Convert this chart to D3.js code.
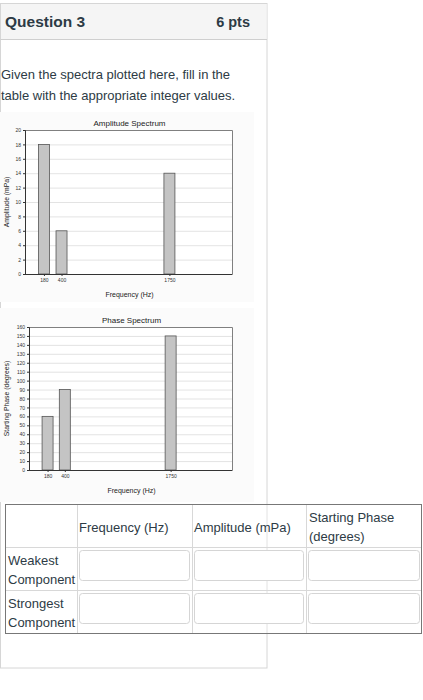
<!DOCTYPE html>
<html>
<head>
<meta charset="utf-8">
<script src="https://cdn.jsdelivr.net/npm/d3@7"></script>
<style>
  html, body { margin: 0; padding: 0; background: #fff; }
  svg { display: block; }
  text { font-family: "Liberation Sans", Arial, sans-serif; }
</style>
</head>
<body>
<svg id="page" width="423" height="700"></svg>
<script>
// ---- Data ----
const frequencies = [180, 400, 1750];
const amplitudes = [18, 6, 14];          // mPa
const phases = [60, 90, 150];            // degrees
const ampTicks = [0, 2, 4, 6, 8, 10, 12, 14, 16, 18, 20];
const phaseTicks = [0, 10, 20, 30, 40, 50, 60, 70, 80, 90, 100, 110, 120, 130, 140, 150, 160];
const questionTitle = "Question 3";
const questionPoints = "6 pts";
const promptLines = ["Given the spectra plotted here, fill in the", "table with the appropriate integer values."];
const tableHeaders = ["", "Frequency (Hz)", "Amplitude (mPa)", ["Starting Phase", "(degrees)"]];
const tableRows = [["Weakest", "Component"], ["Strongest", "Component"]];

const svg = d3.select("#page");

// ---- Question panel ----
svg.append("rect").attr("x", 0.5).attr("y", 3.5).attr("width", 266.5).attr("height", 664.5)
  .attr("fill", "#fff").attr("stroke", "#d6d6d6");
svg.append("rect").attr("x", 1).attr("y", 4).attr("width", 265.5).attr("height", 35)
  .attr("fill", "#f5f5f5");
svg.append("line").attr("x1", 0.5).attr("x2", 267).attr("y1", 39.5).attr("y2", 39.5)
  .attr("stroke", "#cfcfcf");
svg.append("text").attr("x", 5).attr("y", 27).attr("font-size", 15.5).attr("font-weight", "bold")
  .attr("fill", "#2d3b45").text(questionTitle);
svg.append("text").attr("x", 250).attr("y", 27).attr("font-size", 14.5).attr("font-weight", "bold")
  .attr("text-anchor", "end").attr("fill", "#2d3b45").text(questionPoints);
promptLines.forEach((l, i) => {
  svg.append("text").attr("x", 1).attr("y", 79 + i * 21).attr("font-size", 13)
    .attr("fill", "#2d3b45").text(l);
});

// ---- Chart drawer ----
function drawChart(cfg) {
  const g = svg.append("g");
  g.append("rect").attr("x", 0).attr("y", cfg.bgTop).attr("width", 254).attr("height", cfg.bgH)
    .attr("fill", "#fbfbfb");
  const x = d3.scaleLinear().domain([-57, 2533]).range([cfg.left, cfg.right]);
  const y = d3.scaleLinear().domain([0, cfg.max]).range([cfg.bottom, cfg.top]);
  g.append("rect").attr("x", cfg.left).attr("y", cfg.top)
    .attr("width", cfg.right - cfg.left).attr("height", cfg.bottom - cfg.top).attr("fill", "#fff");
  // gridlines
  g.append("g").selectAll("line").data(cfg.ticks.slice(1)).join("line")
    .attr("x1", cfg.left).attr("x2", cfg.right)
    .attr("y1", d => y(d) + 0.5).attr("y2", d => y(d) + 0.5)
    .attr("stroke", "#dcdcdc").attr("stroke-width", 0.8);
  // frame top/right
  g.append("path")
    .attr("d", `M${cfg.left},${cfg.top + 0.5}H${cfg.right + 0.5}V${cfg.bottom}`)
    .attr("fill", "none").attr("stroke", "#808080").attr("stroke-width", 1);
  // bars
  g.append("g").selectAll("rect").data(frequencies.map((f, i) => ({ f, v: cfg.values[i] }))).join("rect")
    .attr("x", d => x(d.f) - 5.5).attr("width", 11)
    .attr("y", d => y(d.v)).attr("height", d => y(0) - y(d.v))
    .attr("fill", "#c4c4c4").attr("stroke", "#555").attr("stroke-width", 0.8);
  // y axis
  const ya = d3.axisLeft(y).tickValues(cfg.ticks).tickSize(2).tickPadding(2);
  const yg = g.append("g").attr("transform", `translate(${cfg.left},0)`).call(ya);
  yg.select(".domain").attr("stroke", "#333");
  yg.selectAll(".tick line").attr("stroke", "#333");
  yg.selectAll("text").attr("font-size", 5).attr("fill", "#333");
  // x axis
  const xa = d3.axisBottom(x).tickValues(frequencies).tickSize(2).tickPadding(2).tickFormat(d3.format("d"));
  const xg = g.append("g").attr("transform", `translate(0,${cfg.bottom})`).call(xa);
  xg.select(".domain").attr("d", `M${cfg.left},0.5H${cfg.right + 0.5}`).attr("stroke", "#333");
  xg.selectAll(".tick line").attr("stroke", "#333");
  xg.selectAll("text").attr("font-size", 5).attr("fill", "#333");
  // titles
  g.append("text").attr("x", (cfg.left + cfg.right) / 2 + 1).attr("y", cfg.top - 4)
    .attr("text-anchor", "middle").attr("font-size", 8).attr("fill", "#222").text(cfg.title);
  g.append("text").attr("x", (cfg.left + cfg.right) / 2 + 1).attr("y", cfg.bottom + 23)
    .attr("text-anchor", "middle").attr("font-size", 7).attr("fill", "#222").text("Frequency (Hz)");
  g.append("text").attr("transform", `translate(${cfg.ytX},${(cfg.top + cfg.bottom) / 2}) rotate(-90)`)
    .attr("text-anchor", "middle").attr("font-size", 6.8).attr("fill", "#222").text(cfg.yTitle);
}

drawChart({ title: "Amplitude Spectrum", yTitle: "Amplitude (mPa)", values: amplitudes, max: 20,
  ticks: ampTicks, left: 25, right: 232, top: 130, bottom: 274, ytX: 9, bgTop: 112, bgH: 190 });
drawChart({ title: "Phase Spectrum", yTitle: "Starting Phase (degrees)", values: phases, max: 160,
  ticks: phaseTicks, left: 29, right: 232, top: 327, bottom: 470, ytX: 9, bgTop: 308, bgH: 194 });

// ---- Answer table ----
const colX = [5, 77, 192, 306, 422];
const rowY = [504, 547, 590, 633];
const tg = svg.append("g");
tg.append("rect").attr("x", colX[0] + 0.5).attr("y", rowY[0] + 0.5)
  .attr("width", colX[4] - colX[0] - 1).attr("height", rowY[3] - rowY[0])
  .attr("fill", "#fff");
// panel border line visible through table
tg.append("line").attr("x1", 267).attr("x2", 267).attr("y1", rowY[0]).attr("y2", rowY[3])
  .attr("stroke", "#e2e2e2");
colX.slice(1, 4).forEach(cx => {
  tg.append("line").attr("x1", cx + 0.5).attr("x2", cx + 0.5).attr("y1", rowY[0]).attr("y2", rowY[3])
    .attr("stroke", "#d8d8d8");
});
rowY.slice(1, 3).forEach(ry => {
  tg.append("line").attr("x1", colX[0]).attr("x2", colX[4]).attr("y1", ry + 0.5).attr("y2", ry + 0.5)
    .attr("stroke", "#d8d8d8");
});
tg.append("rect").attr("x", colX[0] + 0.5).attr("y", rowY[0] + 0.5)
  .attr("width", colX[4] - colX[0] - 1).attr("height", rowY[3] - rowY[0])
  .attr("fill", "none").attr("stroke", "#777");
// headers
tableHeaders.forEach((h, i) => {
  if (i === 0) return;
  if (Array.isArray(h)) {
    h.forEach((ln, j) => tg.append("text").attr("x", colX[i] + 3).attr("y", 522 + j * 19)
      .attr("font-size", 13).attr("fill", "#2d3b45").text(ln));
  } else {
    tg.append("text").attr("x", colX[i] + 2).attr("y", 532).attr("font-size", 13)
      .attr("fill", "#2d3b45").text(h);
  }
});
// rows
tableRows.forEach((r, ri) => {
  r.forEach((ln, j) => tg.append("text").attr("x", 8).attr("y", rowY[ri + 1] + 18 + j * 19)
    .attr("font-size", 13).attr("fill", "#2d3b45").text(ln));
  for (let c = 1; c <= 3; c++) {
    tg.append("rect").attr("x", colX[c] + 2.5).attr("y", rowY[ri + 1] + 3.5)
      .attr("width", colX[c + 1] - colX[c] - 5).attr("height", 30).attr("rx", 3)
      .attr("fill", "#fff").attr("stroke", "#d5d5d5");
  }
});
</script>
</body>
</html>
